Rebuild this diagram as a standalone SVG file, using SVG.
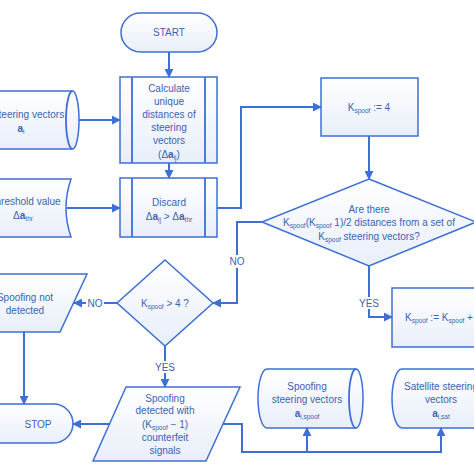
<svg xmlns="http://www.w3.org/2000/svg" width="474" height="474" viewBox="0 0 474 474">
<defs>
<linearGradient id="g" x1="0" y1="0" x2="0" y2="1"><stop offset="0" stop-color="#ffffff"/><stop offset="1" stop-color="#e8eef9"/></linearGradient>
<marker id="ah" viewBox="0 0 10 10" refX="9" refY="5" markerWidth="9" markerHeight="9" markerUnits="userSpaceOnUse" orient="auto"><path d="M0 0 L10 5 L0 10 Z" fill="#3d6fd6"/></marker>
<style>
.s{fill:url(#g);stroke:#3d6fd6;stroke-width:1.5}
.l{fill:none;stroke:#3d6fd6;stroke-width:1.8}
.c{fill:none;stroke:#3d6fd6;stroke-width:2;marker-end:url(#ah)}
text{font-family:"Liberation Sans",Arial,sans-serif;font-size:10px;fill:#3b63b5;text-anchor:middle}
text.st{text-anchor:start}
.sub{font-size:6.5px}
.b{font-weight:bold}
</style>
</defs>
<rect width="474" height="474" fill="#fff"/>
<g id="start"><rect class="s" x="121" y="13" width="96" height="39" rx="19.5"/><text x="169" y="36">START</text></g>
<g id="calc"><rect class="s" x="120" y="77" width="97" height="86"/><path class="l" d="M132 77V163M205 77V163" stroke-width="1.3"/>
<text x="169" y="92">Calculate</text><text x="169" y="105">unique</text><text x="169" y="118">distances of</text><text x="169" y="131">steering</text><text x="169" y="144">vectors</text><text x="169" y="158">(Δ<tspan class="b">a</tspan><tspan class="sub" dy="2">ij</tspan><tspan dy="-2">)</tspan></text></g>
<g id="discard"><rect class="s" x="120" y="178" width="97" height="59"/><path class="l" d="M132 178V237M205 178V237" stroke-width="1.3"/>
<text x="169" y="206">Discard</text><text x="169" y="220">Δ<tspan class="b">a</tspan><tspan class="sub" dy="2">ij</tspan><tspan dy="-2"> &gt; Δ</tspan><tspan class="b">a</tspan><tspan class="sub" dy="2">thr</tspan></text></g>
<g id="steering"><path class="s" d="M-10 91H72.5A6.5 29 0 0 1 72.5 149H-10Z"/><path class="l" stroke-width="1.5" d="M72.5 91A6.5 29 0 0 0 72.5 149"/>
<text x="28" y="118">Steering vectors</text><text x="21" y="132" class="b">a<tspan class="sub" dy="2" font-weight="normal">i</tspan></text></g>
<g id="threshold"><path class="s" d="M-10 179H71Q61 208 71 237H-10Z"/><text x="25" y="205">Threshold value</text><text x="23" y="219">Δ<tspan class="b">a</tspan><tspan class="sub" dy="2">thr</tspan></text></g>
<g id="k4"><rect class="s" x="321" y="78" width="97" height="58"/><text x="369" y="111">K<tspan class="sub" dy="2">spoof</tspan><tspan dy="-2"> := 4</tspan></text></g>
<g id="q1"><path class="s" d="M369 179L476 222L369 266L262 222Z"/>
<text x="369" y="213">Are there</text><text x="369" y="226">K<tspan class="sub" dy="2">spoof</tspan><tspan dy="-2">(K</tspan><tspan class="sub" dy="2">spoof</tspan><tspan dy="-2"> 1)/2 distances from a set of</tspan></text><text x="369" y="240">K<tspan class="sub" dy="2">spoof</tspan><tspan dy="-2"> steering vectors?</tspan></text></g>
<g id="kinc"><rect class="s" x="392" y="288" width="92" height="59"/><text class="st" x="405" y="321">K<tspan class="sub" dy="2">spoof</tspan><tspan dy="-2"> := K</tspan><tspan class="sub" dy="2">spoof</tspan><tspan dy="-2"> + 1</tspan></text></g>
<g id="q2"><path class="s" d="M165 260L213 303L165 346L117 303Z"/><text x="165" y="307">K<tspan class="sub" dy="2">spoof</tspan><tspan dy="-2"> &gt; 4 ?</tspan></text></g>
<g id="notdet"><path class="s" d="M-10 274H87L60 332H-10Z"/><text x="25" y="301">Spoofing not</text><text x="25" y="314">detected</text></g>
<g id="stop"><path class="s" d="M-10 404H53.5A19.5 19.5 0 0 1 53.5 443H-10Z"/><text x="38" y="428">STOP</text></g>
<g id="det"><path class="s" d="M126 387H240L206 461H93Z"/>
<text x="165" y="402">Spoofing</text><text x="165" y="414">detected with</text><text x="165" y="428">(K<tspan class="sub" dy="2">spoof</tspan><tspan dy="-2"> − 1)</tspan></text><text x="165" y="441">counterfeit</text><text x="165" y="454">signals</text></g>
<g id="spoofvec"><path class="s" d="M267 369H356A7 29.5 0 0 1 356 428H267A9 29.5 0 0 1 267 369Z"/><path class="l" stroke-width="1.5" d="M356 369A7 29.5 0 0 0 356 428"/>
<text x="307" y="390">Spoofing</text><text x="307" y="403">steering vectors</text><text x="307" y="417" class="b">a<tspan class="sub" dy="2" font-weight="normal">i,spoof</tspan></text></g>
<g id="satvec"><path class="s" d="M402 369H484V428H402A10 29.5 0 0 1 402 369Z"/>
<text x="441" y="390">Satellite steering</text><text x="441" y="403">vectors</text><text x="441" y="417" class="b">a<tspan class="sub" dy="2" font-weight="normal">i,sat</tspan></text></g>
<g id="connectors">
<path class="c" d="M169 52V77"/>
<path class="c" d="M169 163V178"/>
<path class="c" d="M79 120H120"/>
<path class="c" d="M67 208H120"/>
<path class="c" d="M217 208H241V107H321"/>
<path class="c" d="M369 136V179"/>
<path class="c" d="M262 222H237V303H213"/>
<path class="c" d="M369 266V317H392"/>
<path class="c" d="M117 303H74"/>
<path class="c" d="M24 332V404"/>
<path class="c" d="M165 346V387"/>
<path class="c" d="M110 424H73"/>
<path class="c" d="M223 424H242V452H441V428"/>
<path class="c" d="M307 452V428"/>
<rect x="228" y="255" width="18" height="13" fill="#fff"/><text x="237" y="265">NO</text>
<rect x="86" y="297" width="18" height="12" fill="#fff"/><text x="95" y="307">NO</text>
<rect x="357" y="297" width="24" height="12" fill="#fff"/><text x="369" y="307">YES</text>
<rect x="153" y="361" width="24" height="12" fill="#fff"/><text x="165" y="371">YES</text>
</g>
</svg>
